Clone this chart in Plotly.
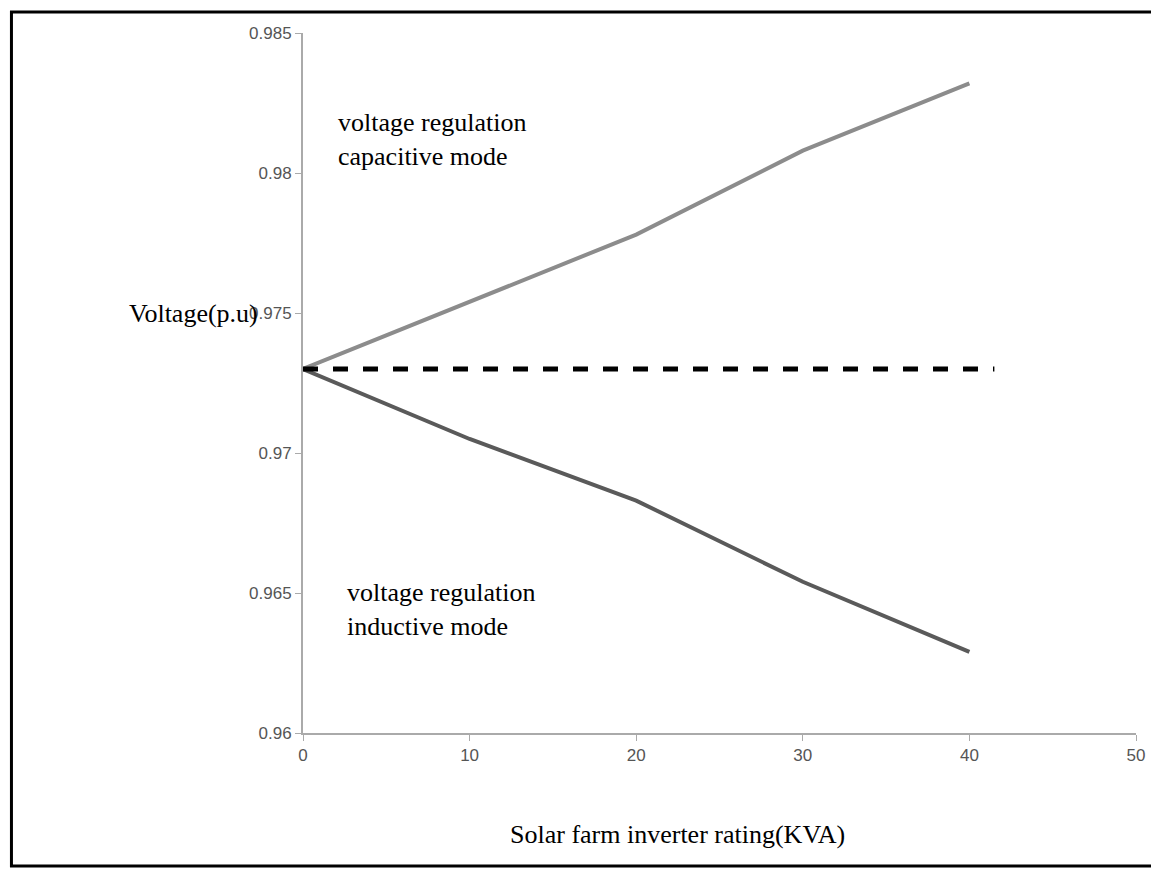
import plotly.graph_objects as go

rating = [0, 10, 20, 30, 40]
v_capacitive = [0.973, 0.9754, 0.9778, 0.9808, 0.9832]
v_inductive = [0.973, 0.9705, 0.9683, 0.9654, 0.9629]
base_x = [0, 41.5]
base_v = [0.973, 0.973]

fig = go.Figure()
fig.add_trace(go.Scatter(x=rating, y=v_capacitive, mode='lines',
                         line=dict(color='#8c8c8c', width=4)))
fig.add_trace(go.Scatter(x=rating, y=v_inductive, mode='lines',
                         line=dict(color='#5a5a5a', width=4)))
fig.add_trace(go.Scatter(x=base_x, y=base_v, mode='lines',
                         line=dict(color='black', width=5, dash='dash')))

tickfont = dict(family='Liberation Sans Narrow, Liberation Sans', size=17, color='#555')
serif = dict(family='Liberation Serif', size=26, color='black')

fig.update_xaxes(range=[0, 50], dtick=10, showgrid=False, zeroline=False,
                 showline=True, linecolor='#aaa', linewidth=2,
                 ticks='outside', tickcolor='#aaa', ticklen=6, tickfont=tickfont)
fig.update_yaxes(range=[0.96, 0.985], dtick=0.005, showgrid=False, zeroline=False,
                 showline=True, linecolor='#aaa', linewidth=2,
                 ticks='outside', tickcolor='#aaa', ticklen=6, tickfont=tickfont,
                 tickformat='~r')

fig.update_layout(
    width=1159, height=871, showlegend=False,
    margin=dict(l=295, r=31, t=25, b=146),
    paper_bgcolor='white', plot_bgcolor='white',
    annotations=[
        dict(text='voltage regulation<br>capacitive mode', x=2, y=0.9812, xref='x', yref='y',
             showarrow=False, xanchor='left', align='left', font=serif),
        dict(text='voltage regulation<br>inductive mode', x=2.5, y=0.9644, xref='x', yref='y',
             showarrow=False, xanchor='left', align='left', font=serif),
        dict(text='Voltage(p.u)', x=-0.052, y=0.975, xref='paper', yref='y',
             showarrow=False, xanchor='right', font=serif),
        dict(text='Solar farm inverter rating(KVA)', x=0.45, y=-0.145, xref='paper', yref='paper',
             showarrow=False, xanchor='center', yanchor='middle', font=serif),
    ],
    shapes=[dict(type='rect', xref='paper', yref='paper', x0=-0.35, x1=1.032, y0=-0.19, y1=1.03,
                 line=dict(color='black', width=3))],
)

fig.write_html("out.html")
